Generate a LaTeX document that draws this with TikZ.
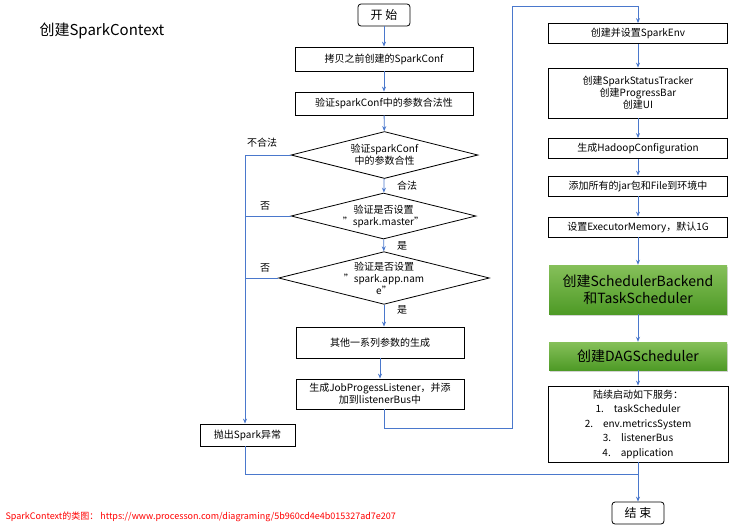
\documentclass[tikz,border=0pt]{standalone}
\usepackage{fontspec}
\setmainfont{Noto Sans CJK SC}
\usetikzlibrary{shapes.geometric,arrows.meta,shadows}
\definecolor{ln}{HTML}{4A78CC}
\definecolor{gtop}{HTML}{86C05A}
\definecolor{gbot}{HTML}{4E9A26}
\begin{document}
\begin{tikzpicture}[x=1pt,y=-1pt,
  box/.style={draw,thick,line width=0.8pt,align=center,inner sep=1pt,font=\fontsize{10}{12}\selectfont},
  dia/.style={draw,line width=0.8pt,diamond,aspect=4,align=center,inner sep=0pt,font=\fontsize{10}{12}\selectfont},
  green/.style={top color=gtop,bottom color=gbot,draw=none,align=center,font=\fontsize{14}{17}\selectfont,drop shadow={opacity=0.35,shadow xshift=1pt,shadow yshift=-1.5pt}},
  arr/.style={draw=ln,line width=0.8pt,-{Stealth[length=5pt,width=4pt]}},
  lin/.style={draw=ln,line width=0.8pt},
  lbl/.style={font=\fontsize{10}{12}\selectfont}]
\useasboundingbox (0,0) rectangle (732,531);
\node[font=\fontsize{15}{18}\selectfont,anchor=west] (title) at (36,31) {创建SparkContext};
\node[box,rounded corners=3pt,minimum width=52pt,minimum height=22pt,font=\fontsize{12}{14}\selectfont] (start) at (384,15) {开 始};
\node[box,minimum width=178pt,minimum height=24pt] (b1) at (384,59) {拷贝之前创建的SparkConf};
\node[box,minimum width=178pt,minimum height=23pt] (b2) at (384,103.5) {验证sparkConf中的参数合法性};
\node[dia,minimum width=187pt,minimum height=47pt] (d1) at (384.5,155) {验证sparkConf\\中的参数合性};
\node[dia,minimum width=185pt,minimum height=46pt] (d2) at (383.5,216) {验证是否设置\\ "spark.master"};
\node[dia,minimum width=202pt,minimum height=48pt] (d3) at (384,278) {验证是否设置\\ "spark.app.nam\\e"};
\node[box,minimum width=168pt,minimum height=31pt] (b3) at (380,342.5) {其他一系列参数的生成};
\node[box,minimum width=168pt,minimum height=30pt] (b4) at (380,394) {生成JobProgessListener，并添\\加到listenerBus中};
\node[box,minimum width=95pt,minimum height=22pt] (thr) at (247.5,435) {抛出Spark异常};
\node[lbl] (l1) at (262,143) {不合法};
\node[lbl] (l2) at (407,186) {合法};
\node[lbl] (l3) at (265,206) {否};
\node[lbl] (l4) at (402,246) {是};
\node[lbl] (l5) at (265,268) {否};
\node[lbl] (l6) at (402,310) {是};
% right column
\node[box,minimum width=179pt,minimum height=20pt] (r1) at (638,33.5) {创建并设置SparkEnv};
\node[box,minimum width=179pt,minimum height=50pt] (r2) at (638,93) {创建SparkStatusTracker\\创建ProgressBar\\创建UI};
\node[box,minimum width=179pt,minimum height=20pt] (r3) at (638,148.5) {生成HadoopConfiguration};
\node[box,minimum width=179pt,minimum height=20pt] (r4) at (638,186) {添加所有的jar包和File到环境中};
\node[box,minimum width=179pt,minimum height=20pt] (r5) at (638,227) {设置ExecutorMemory，默认1G};
\node[green,minimum width=178pt,minimum height=49pt] (g1) at (638,289.5) {创建SchedulerBackend\\和TaskScheduler};
\node[green,minimum width=178pt,minimum height=28pt] (g2) at (638,356) {创建DAGScheduler};
\node[box,minimum width=180pt,minimum height=76pt,font=\fontsize{10}{14.5}\selectfont] (r6) at (638,424) {陆续启动如下服务：\\1.\quad taskScheduler\\2.\quad env.metricsSystem\\3.\quad listenerBus\\4.\quad application};
\node[box,rounded corners=3pt,minimum width=52pt,minimum height=22pt,font=\fontsize{12}{14}\selectfont] (end) at (638,513) {结 束};
\node[anchor=west,text=red,font=\fontsize{9}{11}\selectfont] (foot) at (2,517) {SparkContext的类图： https://www.processon.com/diagraming/5b960cd4e4b015327ad7e207};
% connectors
\draw[arr] (start) -- (b1);
\draw[arr] (b1) -- (b2);
\draw[arr] (b2) -- (d1);
\draw[arr] (d1) -- (d2);
\draw[arr] (d2) -- (d3);
\draw[arr] (d3.south) -- (d3.south |- b3.north);
\draw[arr] (b3.south) -- (b3.south |- b4.north);
\coordinate (lx) at (245,0);
\draw[arr] (d1.west) -| (thr.north -| lx);
\draw[lin] (d2.west) -- (d2.west -| lx);
\draw[lin] (d3.west) -- (d3.west -| lx);
\coordinate (ret1) at (384,428);
\coordinate (ret2) at (512,6);
\draw[arr] (b4.south -| ret1) -- (ret1) -| (ret2) -| (r1.north);
\draw[arr] (r1) -- (r2);
\draw[arr] (r2) -- (r3);
\draw[arr] (r3) -- (r4);
\draw[arr] (r4) -- (r5);
\draw[arr] (r5) -- (g1);
\draw[arr] (g1) -- (g2);
\draw[arr] (g2) -- (r6);
\draw[arr] (r6) -- (end);
\coordinate (bot) at (638,474);
\draw[lin] (thr.south -| lx) |- (bot);
\end{tikzpicture}
\end{document}
